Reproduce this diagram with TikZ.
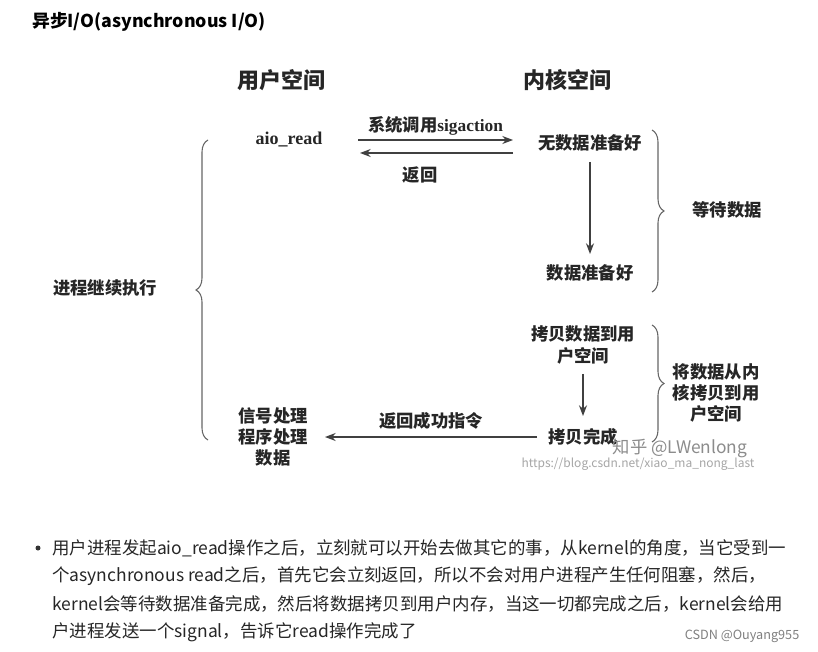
\documentclass[tikz,border=0pt]{standalone}
\usepackage{fontspec}
\newfontfamily\cjk{Noto Sans CJK SC}
\newfontfamily\ser{Liberation Serif}
\usetikzlibrary{decorations.pathreplacing,arrows.meta}
\begin{document}
\begin{tikzpicture}[x=0.75pt,y=-0.75pt,
  lbl/.style={font=\cjk\bfseries\fontsize{13}{16}\selectfont, text=black!85, align=center, inner sep=1pt},
  hd/.style={font=\cjk\bfseries\fontsize{16.5}{19}\selectfont, text=black!85},
  arr/.style={-{Stealth[length=8pt,width=6pt]}, line width=1pt, black!75},
  br/.style={decorate, decoration={brace, amplitude=9pt}, line width=0.8pt, black!60},
  bt/.style={font=\cjk\fontsize{13.1}{15}\selectfont, text=black!85, anchor=west, inner sep=0pt}]
\useasboundingbox (0,0) rectangle (818,652);
\fill[white] (0,0) rectangle (818,652);
\node[anchor=west, font=\cjk\bfseries\fontsize{13.3}{15}\selectfont, inner sep=0pt] (title) at (32,22) {异步I/O(asynchronous I/O)};
\node[hd] (us) at (281,80) {用户空间};
\node[hd] (ks) at (567,80) {内核空间};
\node[lbl, font=\ser\bfseries\fontsize{13.5}{15}\selectfont] (aio) at (289,140) {aio\_read};
\node[lbl] (nd) at (590,143) {无数据准备好};
\node[lbl] (dr) at (590,273) {数据准备好};
\node[lbl] (cp) at (583,345) {拷贝数据到用\\户空间};
\node[lbl] (cd) at (583,437) {拷贝完成};
\node[lbl] (sig) at (273,437) {信号处理\\程序处理\\数据};
\node[lbl] (cont) at (105,288) {进程继续执行};
\node[lbl] (wait) at (727,210) {等待数据};
\node[lbl] (copyk) at (716,393) {将数据从内\\核拷贝到用\\户空间};
\coordinate (a1) at (358,140); \coordinate (a2) at (513,140);
\draw[arr] (a1) -- node[lbl, above=2pt] {系统调用{\ser\bfseries sigaction}} (a2);
\coordinate (b1) at (513,153); \coordinate (b2) at (360,153);
\draw[arr] (b1) -- (b2);
\node[lbl] (ret) at (420,175) {返回};
\coordinate (c1) at (590,162); \coordinate (c2) at (590,254);
\draw[arr] (c1) -- (c2);
\coordinate (d1) at (583,374); \coordinate (d2) at (583,416);
\draw[arr] (d1) -- (d2);
\coordinate (e1) at (537,437); \coordinate (e2) at (325,437);
\draw[arr] (e1) -- node[lbl, above=4pt] {返回成功指令} (e2);
\draw[br] (208,440) -- (208,140);
\draw[br] (652,130) -- (652,292);
\draw[br] (652,325) -- (652,442);
\node[font=\cjk\fontsize{13}{15}\selectfont, text=black!45] (wm1) at (680,448) {知乎 @LWenlong};
\node[font=\cjk\fontsize{9}{11}\selectfont, text=black!35] (wm2) at (638,464) {https://blog.csdn.net/xiao\_ma\_nong\_last};
\fill[black!80] (38,548) circle (2.5);
\node[bt] (l1) at (52,548) {用户进程发起aio\_read操作之后，立刻就可以开始去做其它的事，从kernel的角度，当它受到一};
\node[bt] (l2) at (52,576) {个asynchronous read之后，首先它会立刻返回，所以不会对用户进程产生任何阻塞，然后，};
\node[bt] (l3) at (52,604) {kernel会等待数据准备完成，然后将数据拷贝到用户内存，当这一切都完成之后，kernel会给用};
\node[bt] (l4) at (52,632) {户进程发送一个signal，告诉它read操作完成了};
\node[font=\cjk\fontsize{9.5}{11}\selectfont, text=black!50, anchor=east] (csdn) at (804,636) {CSDN @Ouyang955};
\end{tikzpicture}
\end{document}
